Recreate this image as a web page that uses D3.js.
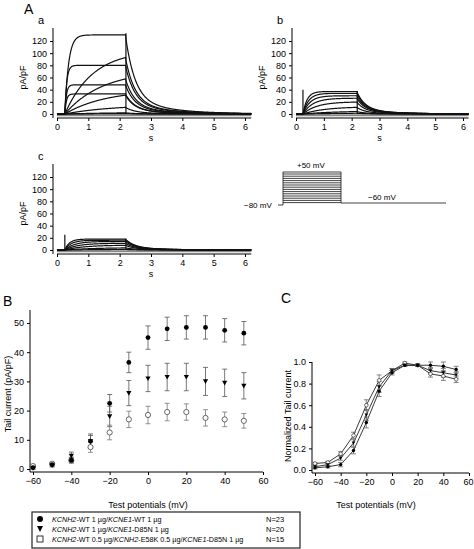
<!DOCTYPE html><html><head><meta charset="utf-8"><script src="https://cdn.jsdelivr.net/npm/d3@7"></script>
<style>body{margin:0;background:#fff}text{font-family:Arial,"Liberation Sans",sans-serif}</style></head><body>
<svg id="s" width="474" height="549"></svg>
<script>
// Panel A traces: steady amplitude (pA/pF) and activation time constant (s)
const ampA=[130,105,80,72,48,40,33,15,3,1];
const tauA=[0.12,0.9,0.06,1.2,0.05,1.3,0.05,1.5,2,2];
const ampB=[37,34,30,26,20,12,5,2];
const tauB=[0.15,0.2,0.25,0.35,0.5,0.8,1.2,2];
const ampC=[18,16,14,11,8,4,1.5];
const tauC=[0.15,0.2,0.3,0.4,0.6,1,2];
const traceTicksY=[0,20,40,60,80,100,120], traceTicksX=[0,1,2,3,4,5,6];
// Panel B/C
const volts=[-60,-50,-40,-30,-20,-10,0,10,20,30,40,50];
const bWT=[0.5,1.5,3,9.5,22.5,36.5,45,48,48.5,48.5,47.5,46.5];
const bWTe=[0.5,0.5,1,2,3,3.5,4,4,4,4,4,4];
const bD85=[0.3,1.2,4.5,9.5,18,26,31,31.5,31.5,30,29.5,28.5];
const bD85e=[0.3,0.5,1.3,2.5,3.5,4.3,4.5,4.7,4.7,4.8,4.7,4.5];
const bE58=[1,1.8,3,7.5,12.5,17,18.5,19.5,19.5,17.5,17,16.5];
const bE58e=[0.4,0.5,0.8,1.8,2.5,2.8,3,3,2.8,2.8,2.5,2.5];
const cWT=[0.02,0.03,0.05,0.18,0.44,0.73,0.9,0.97,0.97,0.97,0.96,0.93];
const cD85=[0.03,0.05,0.11,0.25,0.51,0.77,0.92,0.97,0.97,0.92,0.9,0.88];
const cE58=[0.06,0.07,0.15,0.32,0.6,0.83,0.92,0.99,0.97,0.89,0.87,0.84];
const cErr=[0.01,0.01,0.02,0.03,0.05,0.05,0.02,0.01,0.01,0.03,0.04,0.03];

const svg=d3.select("#s");
const t0=0.25,t1=2.2;
function tracePanel(x0,y0,w6,amps,taus,spike,lbl,lx,ly){
  const x=d3.scaleLinear([0,6],[x0,x0+w6]);
  const xe=x(6.2);
  const y=d3.scaleLinear([0,120],[y0,y0-73]);
  const g=svg.append("g");
  g.append("g").attr("transform",`translate(0,${y0+4})`).call(d3.axisBottom(x).tickValues(traceTicksX).tickFormat(d3.format("d")).tickSize(3)).call(a=>a.select(".domain").attr("d",`M${x0},0H${xe}`));
  g.append("g").attr("transform",`translate(${x0-4},0)`).call(d3.axisLeft(y).tickValues(traceTicksY).tickSize(3)).call(a=>a.select(".domain").attr("d",`M0,${y0+4}V${y0-86}`));
  g.selectAll(".tick text").attr("font-size",9);
  g.append("text").attr("x",x(3)).attr("y",y0+27).attr("text-anchor","middle").attr("font-size",9).text("s");
  g.append("text").attr("transform",`translate(${x0-31},${y(60)}) rotate(-90)`).attr("text-anchor","middle").attr("font-size",9).text("pA/pF");
  g.append("text").attr("x",lx).attr("y",ly).attr("font-size",11).text(lbl);
  const ts=d3.range(0,6.21,0.01);
  const line=d3.line().x(d=>x(d[0])).y(d=>y(d[1]));
  g.append("path").attr("d",line([[0,-2],[6.2,-2]])).attr("stroke","#888").attr("stroke-width",2);
  amps.forEach((A,i)=>{
    const end=A*(1-Math.exp(-(t1-t0)/taus[i]));
    const pts=ts.map(t=>{let v=0;
      if(t>=t0&&t<t1)v=A*(1-Math.exp(-(t-t0)/taus[i]));
      else if(t>=t1)v=end*(0.75*Math.exp(-(t-t1)/0.3)+0.2*Math.exp(-(t-t1)/1.2));
      return [t,v];});
    g.append("path").attr("d",line(pts)).attr("fill","none").attr("stroke","#111").attr("stroke-width",1.2);
  });
  g.append("path").attr("d",line([[t0,0],[t0,spike]])).attr("stroke","#111").attr("stroke-width",1.2);
  g.append("path").attr("d",line([[t1,0],[t1,amps[0]*1.02]])).attr("stroke","#111").attr("stroke-width",1.2);
}
tracePanel(57,114,188,ampA,tauA,4,"a",38,24);
tracePanel(296,114,167,ampB,tauB,40,"b",277,24);
tracePanel(57,250,188,ampC,tauC,25,"c",38,160);
svg.append("text").attr("x",24).attr("y",14).attr("font-size",14).text("A");
// protocol
const pg=svg.append("g").attr("stroke","#111").attr("fill","none").attr("stroke-width",0.8);
pg.append("path").attr("d","M283,205V172H341V203H446");
d3.range(174,203,2.2).forEach(yy=>pg.append("line").attr("x1",283).attr("x2",341).attr("y1",yy).attr("y2",yy));
pg.append("path").attr("d","M278,205H283");
svg.append("text").attr("x",297).attr("y",168).attr("font-size",8).text("+50 mV");
svg.append("text").attr("x",244).attr("y",208).attr("font-size",8).text("−80 mV");
svg.append("text").attr("x",368).attr("y",200).attr("font-size",8).text("−60 mV");

// Panel B
const xB=d3.scaleLinear([-60,60],[33,263]), yB=d3.scaleLinear([0,50],[469,323]);
const gB=svg.append("g");
gB.append("g").attr("transform","translate(0,472)").call(d3.axisBottom(xB).ticks(6).tickSize(3)).call(a=>a.select(".domain").attr("d","M30,0H263"));
gB.append("g").attr("transform","translate(30,0)").call(d3.axisLeft(yB).ticks(5).tickSize(3)).call(a=>a.select(".domain").attr("d","M0,472V310"));
gB.selectAll(".tick text").attr("font-size",9);
svg.append("text").attr("x",148).attr("y",508).attr("text-anchor","middle").attr("font-size",9).text("Test potentials (mV)");
svg.append("text").attr("transform","translate(11,394) rotate(-90)").attr("text-anchor","middle").attr("font-size",9).text("Tail current (pA/pF)");
svg.append("text").attr("x",3).attr("y",306).attr("font-size",14).text("B");
function errs(g,x,y,v,e,col){volts.forEach((vv,i)=>{const X=x(vv);
  g.append("path").attr("d",`M${X},${y(v[i]-e[i])}V${y(v[i]+e[i])}M${X-2.5},${y(v[i]-e[i])}h5M${X-2.5},${y(v[i]+e[i])}h5`).attr("stroke",col).attr("stroke-width",0.8).attr("fill","none");});}
function marks(g,x,y,v,kind,sz){volts.forEach((vv,i)=>{const X=x(vv),Y=y(v[i]);
  if(kind=="c")g.append("circle").attr("cx",X).attr("cy",Y).attr("r",sz).attr("fill","#000");
  else if(kind=="t")g.append("path").attr("d",`M${X-sz},${Y-sz*0.8}h${2*sz}l${-sz},${sz*1.8}z`).attr("fill","#000");
  else g.append("circle").attr("cx",X).attr("cy",Y).attr("r",sz).attr("fill","#fff").attr("stroke","#444").attr("stroke-width",0.8);});}
errs(gB,xB,yB,bWT,bWTe,"#555");errs(gB,xB,yB,bD85,bD85e,"#555");errs(gB,xB,yB,bE58,bE58e,"#777");
marks(gB,xB,yB,bE58,"o",2.6);marks(gB,xB,yB,bD85,"t",2.6);marks(gB,xB,yB,bWT,"c",2.4);

// Panel C
const xC=d3.scaleLinear([-60,60],[315,469]), yC=d3.scaleLinear([0,1],[470,362]);
const gC=svg.append("g");
gC.append("g").attr("transform","translate(0,473)").call(d3.axisBottom(xC).ticks(6).tickSize(3)).call(a=>a.select(".domain").attr("d","M312,0H469"));
gC.selectAll(".tick text").filter(d=>d==60).attr("text-anchor","end").attr("dx",4);
gC.append("g").attr("transform","translate(312,0)").call(d3.axisLeft(yC).ticks(5).tickFormat(d3.format(".1f")).tickSize(3)).call(a=>a.select(".domain").attr("d","M0,473V362"));
gC.selectAll(".tick text").attr("font-size",9);
svg.append("text").attr("x",376).attr("y",508).attr("text-anchor","middle").attr("font-size",9).text("Test potentials (mV)");
svg.append("text").attr("transform","translate(291,416) rotate(-90)").attr("text-anchor","middle").attr("font-size",9).text("Normalized Tail current");
svg.append("text").attr("x",281).attr("y",303).attr("font-size",14).text("C");
const lnC=d3.line().x((d,i)=>xC(volts[i])).y(d=>yC(d));
[cWT,cD85,cE58].forEach(s=>{gC.append("path").attr("d",lnC(s)).attr("fill","none").attr("stroke","#222").attr("stroke-width",0.9);errs(gC,xC,yC,s,cErr,"#666");});
marks(gC,xC,yC,cE58,"o",1.8);marks(gC,xC,yC,cD85,"t",1.8);marks(gC,xC,yC,cWT,"c",1.7);

// Legend
const lg=svg.append("g");
lg.append("rect").attr("x",32).attr("y",512).attr("width",268).attr("height",36).attr("fill","#fff").attr("stroke","#222").attr("stroke-width",1.2);
const rows=[["c",[["KCNH2","i"],["-WT 1 µg/",""],["KCNE1","i"],["-WT 1 µg",""]],"N=23"],
 ["t",[["KCNH2","i"],["-WT 1 µg/",""],["KCNE1","i"],["-D85N 1 µg",""]],"N=20"],
 ["o",[["KCNH2","i"],["-WT 0.5 µg/",""],["KCNH2","i"],["-E58K 0.5 µg/",""],["KCNE1","i"],["-D85N 1 µg",""]],"N=15"]];
rows.forEach((r,i)=>{const Y=522+i*10;
  if(r[0]=="c")lg.append("circle").attr("cx",40).attr("cy",Y-3).attr("r",3).attr("fill","#000");
  else if(r[0]=="t")lg.append("path").attr("d",`M37,${Y-6}h6l-3,6z`).attr("fill","#000");
  else lg.append("rect").attr("x",37).attr("y",Y-6).attr("width",6).attr("height",6).attr("fill","#fff").attr("stroke","#333");
  const t=lg.append("text").attr("x",52).attr("y",Y).attr("font-size",7.2).attr("font-style","italic");
  r[1].forEach(p=>t.append("tspan").attr("font-style",p[1]=="i"?"italic":"normal").text(p[0]));
  lg.append("text").attr("x",266).attr("y",Y).attr("font-size",7.5).text(r[2]);});
</script></body></html>
